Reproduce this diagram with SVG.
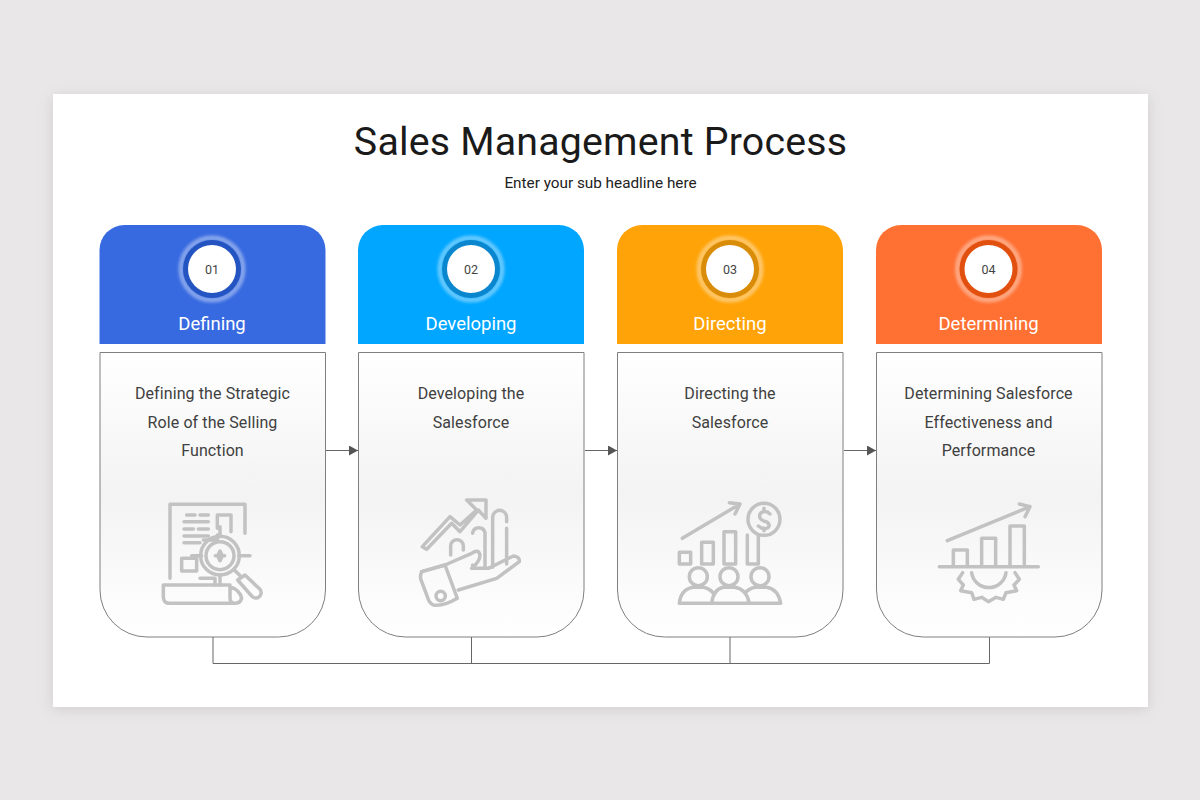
<svg xmlns="http://www.w3.org/2000/svg" width="1200" height="800" viewBox="0 0 1200 800">
<style>
text{font-family:Roboto,"Liberation Sans",sans-serif}
.t{font-size:16px;fill:#404040;text-anchor:middle;letter-spacing:.1px}
.h{font-size:18.500px;fill:#fff;text-anchor:middle}
.n{font-size:12.500px;fill:#444;text-anchor:middle}
.body{fill:url(#bg);stroke:#7f7f7f;stroke-width:1}
.ic{fill:none;stroke:#c2c2c2;stroke-width:10.500;stroke-linecap:round;stroke-linejoin:round}
.ln{fill:none;stroke:#666;stroke-width:1}
.glow{fill:none;stroke:#fff;stroke-width:5;opacity:.4;filter:url(#gl)}
</style>
<defs>
<linearGradient id="bg" x1="0" y1="0" x2="0" y2="1"><stop offset="0" stop-color="#fff"/><stop offset=".5" stop-color="#f3f3f3"/><stop offset="1" stop-color="#fff"/></linearGradient>
<filter id="sh" x="-5%" y="-5%" width="110%" height="110%"><feGaussianBlur stdDeviation="7"/></filter>
<filter id="gl" x="-30%" y="-30%" width="160%" height="160%"><feGaussianBlur stdDeviation="1.500"/></filter>
<marker id="ar" markerUnits="userSpaceOnUse" markerWidth="9" markerHeight="10" refX="9" refY="5" orient="auto"><path d="M0 0L9 5L0 10Z" fill="#555"/></marker>
<path id="head" d="M0 119V25A25 25 0 0 1 25 0H201A25 25 0 0 1 226 25V119Z"/>
<path id="bd" d="M.5 .5H226V238A47 47 0 0 1 179 285H47.500A47 47 0 0 1 .5 238Z"/>
</defs>
<rect width="1200" height="800" fill="#e9e7e8"/>
<rect x="53" y="97" width="1095" height="612" fill="#bdbbbc" filter="url(#sh)" opacity=".6"/>
<rect x="53" y="94" width="1095" height="613" fill="#fff"/>
<text x="600.500" y="155" font-size="39.300" letter-spacing=".2" text-anchor="middle" fill="#1a1a1a">Sales Management Process</text>
<text x="600.500" y="188" font-size="15.300" text-anchor="middle" fill="#222">Enter your sub headline here</text>
<g id="connectors">
<path class="ln" marker-end="url(#ar)" d="M326 450.500H358"/>
<path class="ln" marker-end="url(#ar)" d="M585 450.500H617"/>
<path class="ln" marker-end="url(#ar)" d="M844 450.500H876"/>
<path class="ln" d="M213 637V663.500H989.500V637M471.500 637V663M730 637V663"/>
</g>
<g id="node-1" transform="translate(99.500,225)">
<use href="#head" fill="#376ae0"/>
<circle class="glow" cx="112.500" cy="44" r="31"/>
<circle cx="112.500" cy="44" r="29" fill="#2454c2"/><circle cx="112.500" cy="44" r="24" fill="#fff"/>
<text class="n" x="112.500" y="49">01</text><text class="h" x="112.500" y="105">Defining</text>
<g transform="translate(0,127)"><use href="#bd" class="body"/></g>
<text class="t" x="113" y="174">Defining the Strategic</text><text class="t" x="113" y="202.500">Role of the Selling</text><text class="t" x="113" y="231">Function</text>
<g class="ic" transform="translate(40.500,265) scale(.3333)">
<path d="M90 265V43H315V130"/><path d="M140 75H165M180 75H205M132 95H205M132 117H160M175 117H205M132 138H205M132 158H180"/>
<path d="M232 115V75H273V125M232 135V150H190"/>
<circle cx="240" cy="197" r="58"/><circle cx="240" cy="197" r="42"/>
<path d="M240 110V140M240 255V285M155 197H185M296 197H330M240 183L247 197L240 212L233 197ZM226 197H254"/>
<path d="M125 205H170V243H125ZM180 265H225V285"/>
<path d="M283 240L305 262M315 255L360 298A15 15 0 0 1 335 318L293 270Z"/>
<path d="M70 285H270V325Q270 340 285 340H90Q70 340 70 320ZM270 290Q300 300 305 325Q300 340 285 340"/>
</g></g>
<g id="node-2" transform="translate(358,225)">
<use href="#head" fill="#00a6ff"/>
<circle class="glow" cx="113" cy="44" r="31"/>
<circle cx="113" cy="44" r="29" fill="#0a86cf"/><circle cx="113" cy="44" r="24" fill="#fff"/>
<text class="n" x="113" y="49">02</text><text class="h" x="113" y="105">Developing</text>
<g transform="translate(0,127)"><use href="#bd" class="body"/></g>
<text class="t" x="113" y="174">Developing the</text><text class="t" x="113" y="202.500">Salesforce</text>
<g class="ic" transform="translate(42,265) scale(.3333)">
<path d="M67 170L150 80L180 105L230 60L200 30H258V85L235 60L180 125L155 100L80 178Z"/>
<path d="M152 195V168A19 19 0 0 1 190 168V180M218 130V128A19 19 0 0 1 255 128V232M218 225V232M278 232V82A21 21 0 0 1 320 82V95M320 115V222"/>
<path d="M65 245L135 225L215 190Q235 175 240 195Q240 215 215 235H265L340 198Q360 200 358 215L290 265L175 300"/>
<path d="M135 225L172 325Q130 350 100 345Q88 340 82 320L65 275Q58 260 65 245Z"/><circle cx="122" cy="318" r="14"/>
</g></g>
<g id="node-3" transform="translate(617,225)">
<use href="#head" fill="#ffa308"/>
<circle class="glow" cx="113" cy="44" r="31"/>
<circle cx="113" cy="44" r="29" fill="#d98c08"/><circle cx="113" cy="44" r="24" fill="#fff"/>
<text class="n" x="113" y="49">03</text><text class="h" x="113" y="105">Directing</text>
<g transform="translate(0,127)"><use href="#bd" class="body"/></g>
<text class="t" x="113" y="174">Directing the</text><text class="t" x="113" y="202.500">Salesforce</text>
<g class="ic" transform="translate(43,265) scale(.3333)">
<path d="M67 145L240 42M208 38L240 42L225 72"/><circle cx="312" cy="88" r="48"/>
<path d="M330 72Q322 62 310 65Q295 70 300 84Q304 92 318 95Q332 102 325 112Q312 122 295 108M312 55V65M312 115V122"/>
<path d="M58 187H92V222H58ZM125 157H160V222H125ZM192 125H227V222H192ZM262 135V222H295V135"/>
<circle cx="115" cy="260" r="27"/><circle cx="207" cy="260" r="27"/><circle cx="300" cy="260" r="27"/>
<path d="M58 340Q62 298 100 292H130Q150 296 160 310M155 340Q160 298 190 292H225Q260 298 268 340M255 310Q265 296 285 292H320Q355 298 362 340M58 340H362"/>
</g></g>
<g id="node-4" transform="translate(876,225)">
<use href="#head" fill="#ff7033"/>
<circle class="glow" cx="112.500" cy="44" r="31"/>
<circle cx="112.500" cy="44" r="29" fill="#e2500f"/><circle cx="112.500" cy="44" r="24" fill="#fff"/>
<text class="n" x="112.500" y="49">04</text><text class="h" x="112.500" y="105">Determining</text>
<g transform="translate(0,127)"><use href="#bd" class="body"/></g>
<text class="t" x="112.500" y="174">Determining Salesforce</text><text class="t" x="112.500" y="202.500">Effectiveness and</text><text class="t" x="112.500" y="231">Performance</text>
<g class="ic" transform="translate(44,265) scale(.3333)">
<path d="M82 152L330 50M298 42L330 50L315 80"/>
<path d="M58 230H355M100 230V180H142V230M185 230V145H227V230M270 230V108H313V230"/>
<path d="M155 248A52 52 0 0 0 258 248"/>
<path d="M128 248L115 268L130 285L122 302L155 308L162 328L185 322L205 335L228 322L250 328L258 308L290 302L282 285L298 268L285 248"/>
</g></g>
</svg>
